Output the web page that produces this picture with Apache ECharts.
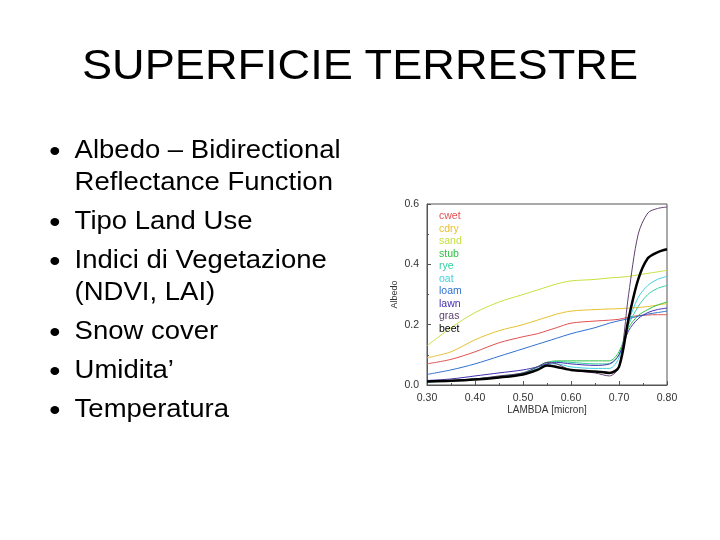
<!DOCTYPE html>
<html><head><meta charset="utf-8">
<script src="https://cdn.jsdelivr.net/npm/echarts@6/dist/echarts.min.js"></script>
<style>
body{margin:0;background:#fff;font-family:"Liberation Sans",Arial,sans-serif}
#t{position:absolute;left:0;width:720px;top:40px;text-align:center;font-size:43px;color:#000;transform:scaleX(1.05)}
ul{position:absolute;left:24px;top:133px;margin:0;padding-left:46px;font-size:25px;line-height:32px;width:245px;transform:scaleX(1.1);transform-origin:0 0}
li{margin-bottom:7px}
#c{position:absolute;left:0;top:0;width:720px;height:540px}
</style></head><body>
<div id="c"></div>
<div id="t">SUPERFICIE TERRESTRE</div>
<ul>
<li>Albedo – Bidirectional Reflectance Function</li>
<li>Tipo Land Use</li>
<li>Indici di Vegetazione (NDVI, LAI)</li>
<li>Snow cover</li>
<li>Umidita’</li>
<li>Temperatura</li>
</ul>
<script>
var lambda = [0.30,0.35,0.40,0.45,0.50,0.53,0.55,0.57,0.60,0.65,0.68,0.70,0.72,0.74,0.76,0.78,0.80];
var names = ['cwet','cdry','sand','stub','rye','oat','loam','lawn','gras','beet'];
var colors = ['#e05050','#e8c030','#c8e040','#30c040','#30d0a0','#40d0e0','#3070d0','#4030b0','#604070','#000000'];
var cwet = [0.07,0.085,0.11,0.14,0.16,0.17,0.18,0.19,0.205,0.212,0.215,0.218,0.225,0.23,0.232,0.233,0.233];
var cdry = [0.09,0.11,0.15,0.18,0.20,0.215,0.225,0.235,0.245,0.25,0.252,0.253,0.255,0.257,0.26,0.265,0.27];
var sand = [0.13,0.19,0.24,0.275,0.30,0.315,0.325,0.335,0.345,0.35,0.355,0.357,0.36,0.365,0.37,0.375,0.38];
var stub = [0.01,0.015,0.02,0.028,0.04,0.06,0.075,0.08,0.08,0.08,0.08,0.11,0.19,0.23,0.25,0.265,0.275];
var rye = [0.01,0.014,0.02,0.028,0.04,0.06,0.075,0.078,0.075,0.07,0.07,0.10,0.20,0.26,0.30,0.32,0.33];
var oat = [0.01,0.014,0.02,0.027,0.038,0.055,0.07,0.07,0.06,0.055,0.055,0.09,0.21,0.29,0.33,0.35,0.36];
var loam = [0.035,0.05,0.07,0.095,0.12,0.135,0.145,0.155,0.17,0.19,0.205,0.213,0.22,0.228,0.235,0.24,0.245];
var lawn = [0.015,0.02,0.03,0.04,0.05,0.06,0.07,0.075,0.07,0.065,0.07,0.10,0.18,0.22,0.24,0.25,0.255];
var gras = [0.012,0.015,0.02,0.03,0.04,0.06,0.075,0.07,0.05,0.04,0.03,0.06,0.30,0.50,0.57,0.585,0.59];
var beet = [0.012,0.014,0.018,0.025,0.035,0.05,0.065,0.06,0.05,0.045,0.04,0.06,0.22,0.35,0.42,0.44,0.45];
var values = [cwet,cdry,sand,stub,rye,oat,loam,lawn,gras,beet];

var chart = echarts.init(document.getElementById('c'));
var series = names.map(function (n, i) {
    return {
        name: n, type: 'line', showSymbol: false, smooth: 0.3,
        lineStyle: {color: colors[i], width: n == 'beet' ? 2.5 : 1},
        itemStyle: {color: colors[i]},
        data: lambda.map(function (x, k) { return [x, values[i][k]]; })
    };
});
chart.setOption({
    animation: false,
    grid: {left: 427, right: 53, top: 204, bottom: 155, show: true, borderColor: '#555', borderWidth: 1},
    legend: {
        orient: 'vertical', left: 429, top: 206, itemGap: 1.5, itemWidth: 0, itemHeight: 11, icon: 'none',
        data: names.map(function (n, i) { return {name: n, textStyle: {color: colors[i]}}; }),
        textStyle: {fontSize: 10.5, padding: 0}
    },
    xAxis: {
        type: 'value', min: 0.3, max: 0.8, interval: 0.1,
        name: 'LAMBDA [micron]', nameLocation: 'middle', nameGap: 18,
        nameTextStyle: {fontSize: 10, color: '#333'},
        axisLine: {lineStyle: {color: '#555'}},
        axisTick: {inside: true, length: 4},
        minorTick: {show: true, splitNumber: 2, length: 2},
        axisLabel: {fontSize: 10.5, color: '#333', formatter: function (v) { return v.toFixed(2); }},
        splitLine: {show: false}
    },
    yAxis: {
        type: 'value', min: 0, max: 0.6, interval: 0.2,
        name: 'Albedo', nameLocation: 'middle', nameGap: 28,
        nameTextStyle: {fontSize: 9, color: '#333'},
        axisLine: {show: true, lineStyle: {color: '#555'}},
        axisTick: {show: true, inside: true, length: 4},
        minorTick: {show: true, splitNumber: 2, length: 2},
        axisLabel: {fontSize: 10.5, color: '#333', formatter: function (v) { return v.toFixed(1); }},
        splitLine: {show: false}
    },
    series: series
});
</script>
</body></html>
